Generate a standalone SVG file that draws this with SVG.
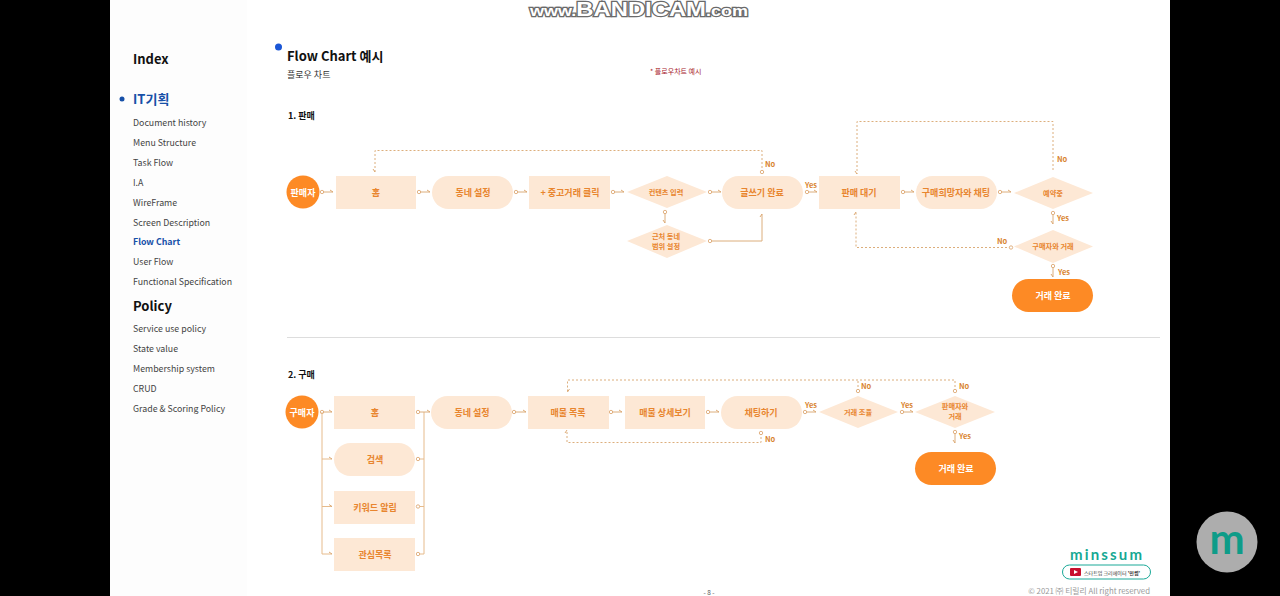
<svg xmlns="http://www.w3.org/2000/svg" width="1280" height="596" viewBox="0 0 1280 596">
<defs>
<marker id="c" markerUnits="userSpaceOnUse" markerWidth="6" markerHeight="6" refX="3" refY="3" overflow="visible"><circle cx="3" cy="3" r="1.7" fill="#fff" stroke="#d9a066" stroke-width="0.8"/></marker>
<marker id="h" markerUnits="userSpaceOnUse" markerWidth="6" markerHeight="6" refX="5" refY="4" orient="auto" overflow="visible"><path d="M2 2 L5 4" fill="none" stroke="#d9a066" stroke-width="0.9"/></marker>
<marker id="hd" markerUnits="userSpaceOnUse" markerWidth="6" markerHeight="6" refX="5" refY="2" orient="auto" overflow="visible"><path d="M2 4 L5 2" fill="none" stroke="#d9a066" stroke-width="0.9"/></marker>
<filter id="soft" x="-5%" y="-30%" width="110%" height="160%"><feGaussianBlur stdDeviation="0.6"/></filter>
</defs>
<style>
text{font-family:"Noto Sans CJK KR","Noto Sans",sans-serif}
.s{fill:#fde8d5}
.o{fill:#fd8a25}
.t{fill:#e8852e;font-size:9px;font-weight:700;text-anchor:middle}
.d{fill:#e8852e;font-size:7.200px;font-weight:700;text-anchor:middle}
.w{fill:#fff;font-size:9px;font-weight:700;text-anchor:middle}
.l{fill:#d9842f;font-size:7.500px;font-weight:700}
.n{fill:#444;font-size:8.800px}
.h{fill:#111;font-size:13px;font-weight:700}
.sec{fill:#111;font-size:9px;font-weight:700}
.a{fill:none;stroke:#dcae7c;stroke-width:1;marker-start:url(#c);marker-end:url(#h)}
.b{fill:none;stroke:#dcae7c;stroke-width:1;marker-start:url(#c);marker-end:url(#hd)}
.p{fill:none;stroke:#e6bb8c;stroke-width:1}
.q{fill:none;stroke:#dcae7c;stroke-width:1;stroke-dasharray:2 2}
.wm{font-family:"Liberation Sans",sans-serif;font-weight:700;paint-order:stroke}
</style>
<rect width="1280" height="596" fill="#000"/>
<rect x="110" width="1060" height="596" fill="#fff"/>
<rect x="110" width="137" height="596" fill="#fdfdfd"/>
<g id="watermark">
<text class="wm" x="530" y="16" textLength="218" lengthAdjust="spacingAndGlyphs" style="fill:#fff;stroke:#6a6a6a;stroke-width:2.500px"><tspan font-size="15.500">www.</tspan><tspan font-size="20.500">BANDICAM</tspan><tspan font-size="15.500">.com</tspan></text>
</g>
<g id="sidebar">
<text class="h" x="133" y="64">Index</text>
<circle cx="122" cy="99" r="2.500" fill="#1650a8"/>
<text x="133" y="104" style="fill:#1650a8;font-size:13px;font-weight:700">IT기획</text>
<text class="n" x="133" y="126">Document history</text>
<text class="n" x="133" y="146">Menu Structure</text>
<text class="n" x="133" y="166">Task Flow</text>
<text class="n" x="133" y="186">I.A</text>
<text class="n" x="133" y="206">WireFrame</text>
<text class="n" x="133" y="226">Screen Description</text>
<text class="n" x="133" y="245" style="fill:#1650a8;font-weight:700">Flow Chart</text>
<text class="n" x="133" y="265">User Flow</text>
<text class="n" x="133" y="285">Functional Specification</text>
<text class="h" x="133" y="311">Policy</text>
<text class="n" x="133" y="332">Service use policy</text>
<text class="n" x="133" y="352">State value</text>
<text class="n" x="133" y="372">Membership system</text>
<text class="n" x="133" y="392">CRUD</text>
<text class="n" x="133" y="412">Grade &amp; Scoring Policy</text>
</g>
<g id="header">
<circle cx="278.500" cy="47" r="3.500" fill="#1a56d6"/>
<text class="h" x="287" y="61">Flow Chart 예시</text>
<text x="287" y="78" style="fill:#333;font-size:9px">플로우 차트</text>
<text x="650" y="74" style="fill:#a8232e;font-size:7px">* 플로우차트 예시</text>
<text class="sec" x="288" y="119">1. 판매</text>
<text class="sec" x="288" y="378">2. 구매</text>
<rect x="287" y="337" width="873" height="1" fill="#ddd"/>
</g>
<g id="connectors">
<path class="a" d="M322 192H333"/><path class="a" d="M419 192H430"/><path class="a" d="M516 192H527"/><path class="a" d="M613 192H624"/>
<path class="a" d="M710 192H721"/><path class="a" d="M807 192H817"/><path class="a" d="M903 192H914"/><path class="a" d="M1000 192H1011"/>
<path class="b" d="M665 212V223"/><path class="a" d="M710 241H762V214"/>
<path class="b" d="M1053 213V224"/><path class="b" d="M1053 266V277"/>
<path class="q" d="M762 172V150.500H375V172" style="marker-start:url(#c);marker-end:url(#hd)"/>
<path class="q" d="M1053 170V121.500H857V174" style="marker-end:url(#hd)"/>
<path class="q" d="M1011 247.500H856V212" style="marker-start:url(#c);marker-end:url(#h)"/>
<path class="a" d="M322 412H332"/>
<path class="p" d="M322 412V554H332" style="marker-end:url(#h)"/>
<path class="p" d="M322 459H332" style="marker-end:url(#h)"/>
<path class="p" d="M322 506.500H332" style="marker-end:url(#h)"/>
<path class="p" d="M418 554H424V412" style="marker-start:url(#c)"/>
<path class="p" d="M418 459H424" style="marker-start:url(#c)"/>
<path class="p" d="M418 506.500H424" style="marker-start:url(#c)"/>
<path class="a" d="M418 412H430"/>
<path class="a" d="M514 412H526"/><path class="a" d="M611 412H622"/><path class="a" d="M708 412H719"/><path class="a" d="M805 412H816"/><path class="a" d="M902 412H913"/>
<path class="b" d="M955 432V443"/>
<path class="q" d="M955 391V380H567.500V392" style="marker-start:url(#c);marker-end:url(#h)"/>
<path class="q" d="M858 391V380" style="marker-start:url(#c)"/>
<path class="q" d="M761 433V442.500H567V430" style="marker-start:url(#c);marker-end:url(#h)"/>
</g>
<g id="labels">
<text class="l" x="765" y="167">No</text><text class="l" x="805" y="188">Yes</text><text class="l" x="1057" y="162">No</text><text class="l" x="1057" y="221">Yes</text><text class="l" x="997" y="244">No</text><text class="l" x="1058" y="275">Yes</text>
<text class="l" x="805" y="408">Yes</text><text class="l" x="901" y="408">Yes</text><text class="l" x="861" y="389">No</text><text class="l" x="959" y="389">No</text><text class="l" x="765" y="442">No</text><text class="l" x="959" y="439">Yes</text>
</g>
<g id="n-seller"><circle class="o" cx="303" cy="192" r="16.500"/><text class="w" x="303" y="195.500">판매자</text></g>
<g id="n-home1"><rect class="s" x="336" y="176" width="80" height="33"/><text class="t" x="376" y="195.500">홈</text></g>
<g id="n-town1"><rect class="s" x="432" y="176" width="81" height="33" rx="16.500"/><text class="t" x="473" y="195.500">동네 설정</text></g>
<g id="n-click"><rect class="s" x="529" y="176" width="81" height="33"/><text class="t" x="570" y="195.500">+ 중고거래 클릭</text></g>
<g id="n-content"><path class="s" d="M627 192L667 176L707 192L667 208Z"/><text class="d" x="666" y="194.500">컨텐츠 입력</text></g>
<g id="n-range"><path class="s" d="M627 241L667 225L707 241L667 258Z"/><text class="d" x="666" y="239">근처 동네</text><text class="d" x="666" y="249">범위 설정</text></g>
<g id="n-write"><rect class="s" x="722" y="176" width="81" height="33" rx="16.500"/><text class="t" x="762" y="195.500">글쓰기 완료</text></g>
<g id="n-wait"><rect class="s" x="819" y="176" width="81" height="33"/><text class="t" x="859" y="195.500">판매 대기</text></g>
<g id="n-chat1"><rect class="s" x="916" y="176" width="81" height="33" rx="16.500"/><text class="t" x="956" y="195.500">구매희망자와 채팅</text></g>
<g id="n-reserve"><path class="s" d="M1014 193L1053 177L1093 193L1053 209Z"/><text class="d" x="1053" y="195.500">예약중</text></g>
<g id="n-buyerdeal"><path class="s" d="M1014 246.500L1053 230L1093 246.500L1053 263Z"/><text class="d" x="1053" y="249">구매자와 거래</text></g>
<g id="n-done1"><rect class="o" x="1012" y="279" width="81" height="33" rx="16.500"/><text class="w" x="1053" y="299">거래 완료</text></g>
<g id="n-buyer"><circle class="o" cx="302" cy="412" r="16.500"/><text class="w" x="302" y="415.500">구매자</text></g>
<g id="n-home2"><rect class="s" x="334" y="396" width="81" height="33"/><text class="t" x="375" y="415.500">홈</text></g>
<g id="n-search"><rect class="s" x="334" y="443" width="81" height="33" rx="16.500"/><text class="t" x="375" y="463">검색</text></g>
<g id="n-keyword"><rect class="s" x="334" y="491" width="81" height="33"/><text class="t" x="375" y="510.500">키워드 알림</text></g>
<g id="n-wish"><rect class="s" x="334" y="538" width="81" height="33"/><text class="t" x="375" y="558">관심목록</text></g>
<g id="n-town2"><rect class="s" x="431" y="396" width="81" height="33" rx="16.500"/><text class="t" x="472" y="415.500">동네 설정</text></g>
<g id="n-list"><rect class="s" x="528" y="396" width="81" height="33"/><text class="t" x="568" y="415.500">매물 목록</text></g>
<g id="n-detail"><rect class="s" x="625" y="396" width="80" height="33"/><text class="t" x="665" y="415.500">매물 상세보기</text></g>
<g id="n-chat2"><rect class="s" x="721" y="396" width="81" height="33" rx="16.500"/><text class="t" x="761" y="415.500">채팅하기</text></g>
<g id="n-adjust"><path class="s" d="M819 412L858 396L898 412L858 428Z"/><text class="d" x="858" y="414.500">거래 조율</text></g>
<g id="n-sellerdeal"><path class="s" d="M915 412L955 396L995 412L955 428Z"/><text class="d" x="955" y="409">판매자와</text><text class="d" x="955" y="419">거래</text></g>
<g id="n-done2"><rect class="o" x="915" y="452" width="81" height="33" rx="16.500"/><text class="w" x="956" y="472">거래 완료</text></g>
<g id="footer">
<text x="1106" y="560" text-anchor="middle" textLength="72" lengthAdjust="spacing" style="font-family:'Lato',sans-serif;font-size:15px;font-weight:700;fill:#16a893">minssum</text>
<rect x="1062.500" y="565" width="88" height="14" rx="7" fill="#fff" stroke="#1aa998" stroke-width="1"/>
<rect x="1070" y="568" width="11" height="8" rx="1" fill="#c8102e"/>
<path d="M1074 570L1078 572L1074 574Z" fill="#fff"/>
<text x="1084" y="574.500" style="font-size:5px;fill:#333">스타트업 크리에이터 <tspan font-weight="700">'민썸'</tspan></text>
<text x="1150" y="594" text-anchor="end" style="font-size:7.800px;fill:#999">© 2021 ㈜ 티릴리 All right reserved</text>
<text x="709" y="595" text-anchor="middle" style="font-size:6.500px;fill:#555">- 8 -</text>
</g>
<g id="floating-button"><circle cx="1227" cy="542" r="30.500" fill="#adadad"/><text x="1227" y="554" text-anchor="middle" style="font-family:'Lato',sans-serif;font-size:42px;font-weight:700;fill:#0e9c88">m</text></g>
</svg>
